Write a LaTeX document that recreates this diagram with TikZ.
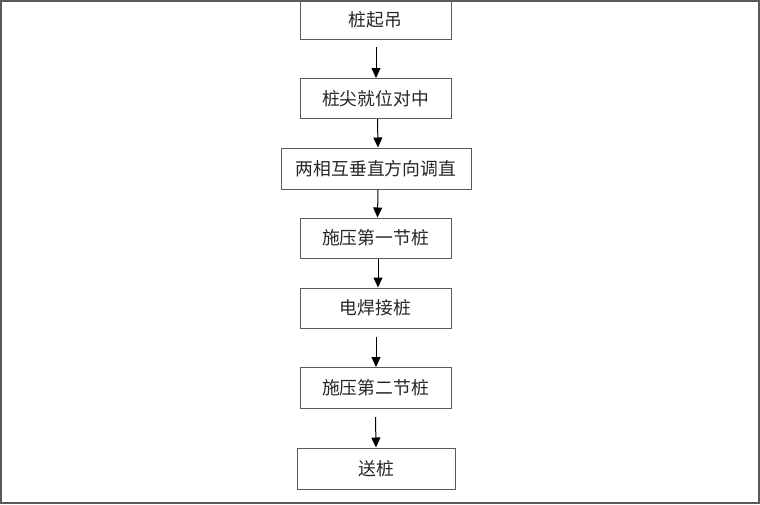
\documentclass[tikz,border=0pt]{standalone}
\usepackage{fontspec}
\newfontfamily\cjk{Noto Sans CJK SC}
\usetikzlibrary{arrows.meta}
\definecolor{frame}{HTML}{5A5A5A}
\begin{document}
\begin{tikzpicture}[x=1pt,y=-1pt,
  stepbox/.style={draw=frame,line width=1pt,rectangle,inner sep=0pt,
    font=\cjk\fontsize{17.8}{20}\selectfont,text=black!85},
  arr/.style={draw=black,line width=1pt,-{Triangle[length=10pt,width=9pt]}}]
\useasboundingbox (0,0) rectangle (760,504);
\draw[frame,line width=2pt] (1,1) rectangle (759,503);
\node[stepbox,minimum width=151pt,minimum height=39pt] (b1) at (375.5,20) {桩起吊};
\node[stepbox,minimum width=151pt,minimum height=40pt] (b2) at (375.5,98.5) {桩尖就位对中};
\node[stepbox,minimum width=190pt,minimum height=41pt] (b3) at (376,168.5) {两相互垂直方向调直};
\node[stepbox,minimum width=151pt,minimum height=40pt] (b4) at (375.5,238) {施压第一节桩};
\node[stepbox,minimum width=151pt,minimum height=40pt] (b5) at (375.5,308) {电焊接桩};
\node[stepbox,minimum width=151pt,minimum height=41pt] (b6) at (375.5,388) {施压第二节桩};
\node[stepbox,minimum width=158pt,minimum height=41pt] (b7) at (376,468.5) {送桩};
\draw[arr] ([xshift=0.5pt,yshift=-7pt]b1.south) -- ([xshift=0.5pt]b2.north);
\draw[arr] ([xshift=2pt]b2.south) -- ([xshift=2pt]b3.north);
\draw[arr] ([xshift=2pt]b3.south) -- ([xshift=2pt]b4.north);
\draw[arr] ([xshift=2.5pt]b4.south) -- ([xshift=2.5pt]b5.north);
\draw[arr] ([xshift=0.5pt,yshift=-8pt]b5.south) -- ([xshift=0.5pt]b6.north);
\draw[arr] ([xshift=0pt,yshift=-8pt]b6.south) -- ([xshift=0pt]b7.north);
\end{tikzpicture}
\end{document}
